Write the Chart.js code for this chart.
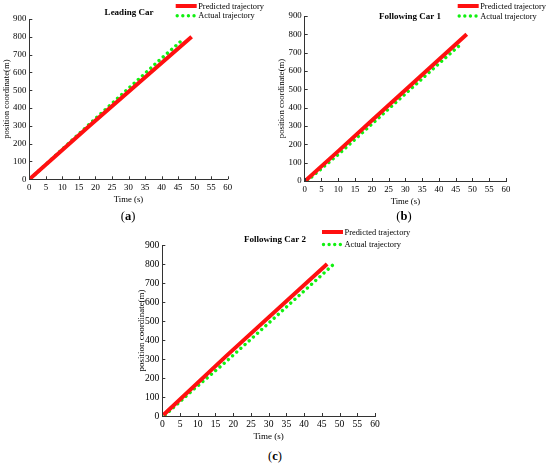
<!DOCTYPE html>
<html><head><meta charset="utf-8">
<script src="https://cdn.jsdelivr.net/npm/chart.js@4.4.1/dist/chart.umd.min.js"></script>
<style>
html,body{margin:0;padding:0;background:#fff;width:550px;height:465px;overflow:hidden;}
canvas{position:absolute;}
.lab{position:absolute;font-family:"Liberation Serif",serif;font-size:12.5px;color:#000;transform:translate(-50%,-50%);white-space:nowrap;}
</style></head><body>
<canvas id="ca" width="275" height="210" style="left:0;top:0;width:275px;height:210px"></canvas>
<canvas id="cb" width="275" height="210" style="left:275px;top:0;width:275px;height:210px"></canvas>
<canvas id="cc" width="290" height="225" style="left:130px;top:220px;width:290px;height:225px"></canvas>
<div class="lab" style="left:128px;top:216px">(<b>a</b>)</div>
<div class="lab" style="left:404px;top:216px">(<b>b</b>)</div>
<div class="lab" style="left:275px;top:456px">(<b>c</b>)</div>
<script>
// ---- data ----
const seriesNames = ['Predicted trajectory', 'Actual trajectory'];
const panelTitles = ['Leading Car', 'Following Car 1', 'Following Car 2'];
const xAxisTitle = 'Time (s)';
const yAxisTitle = 'position coordinate(m)';
const xTickValues = [0, 5, 10, 15, 20, 25, 30, 35, 40, 45, 50, 55, 60];
const yTickValues = [0, 100, 200, 300, 400, 500, 600, 700, 800, 900];

const leadPredTime = [0, 18.4, 49.1];
const leadPredPos  = [0, 303, 800];
const leadActTime  = [0.5, 20.4, 39.2, 46.8];
const leadActPos   = [6, 348, 666, 791];

const f1PredTime = [0.3, 10, 20, 48.3];
const f1PredPos  = [3, 163, 330, 800];
const f1ActTime  = [0.8, 10, 20.6, 40.1, 46.6];
const f1ActPos   = [3, 145, 320, 642, 747];

const f2PredTime = [0.3, 18, 46.5];
const f2PredPos  = [5, 315, 800];
const f2ActTime  = [0.8, 9.2, 18.3, 48.4];
const f2ActPos   = [5, 146, 291, 800];

// ---- helpers ----
const pts = (t, v) => t.map((x, i) => ({x: x, y: v[i]}));
const FONT = '"Liberation Serif", "Times New Roman", serif';
const TXT = '#000';

const decor = {
  id: 'decor',
  afterDraw(chart, args, o) {
    const ctx = chart.ctx;
    const xs = chart.scales.x, ys = chart.scales.y;
    const ca = chart.chartArea;
    ctx.save();
    // inward ticks
    ctx.strokeStyle = '#333'; ctx.lineWidth = 1;
    ctx.beginPath();
    xTickValues.forEach(v => {
      const p = Math.round(xs.getPixelForValue(v)) + 0.5;
      ctx.moveTo(p, ca.bottom); ctx.lineTo(p, ca.bottom - 3);
    });
    yTickValues.forEach(v => {
      const p = Math.round(ys.getPixelForValue(v)) + 0.5;
      ctx.moveTo(ca.left, p); ctx.lineTo(ca.left + 3, p);
    });
    ctx.stroke();
    // title
    ctx.fillStyle = TXT;
    ctx.font = 'bold ' + o.titleSize + 'px ' + FONT;
    ctx.textAlign = 'center'; ctx.textBaseline = 'middle';
    ctx.fillText(o.title, o.titleX, o.titleY);
    // legend
    chart.data.datasets.forEach((ds, i) => {
      const y = o.legY + i * o.legGap;
      ctx.beginPath();
      ctx.strokeStyle = ds.borderColor; ctx.lineWidth = ds.borderWidth;
      ctx.setLineDash(ds.borderDash || []);
      ctx.lineCap = ds.borderCapStyle || 'butt';
      ctx.moveTo(o.legX + (i ? 1.5 : 0), y); ctx.lineTo(o.legX + o.legLen, y);
      ctx.stroke();
      ctx.setLineDash([]);
      ctx.fillStyle = TXT;
      ctx.font = o.legSize + 'px ' + FONT;
      ctx.textAlign = 'left'; ctx.textBaseline = 'middle';
      ctx.fillText(ds.label, o.legX + o.legLen + 1.5, y + 0.5);
    });
    ctx.restore();
  }
};

function makePanel(id, cfg) {
  const cv = document.getElementById(id);
  const W = cv.width, H = cv.height;
  const xH = 27;
  new Chart(cv, {
    type: 'line',
    data: {
      datasets: [
        {label: seriesNames[0], data: pts(cfg.predT, cfg.predV), borderColor: '#ff1010', borderWidth: 4,
         pointRadius: 0, tension: 0, fill: false, order: 0, borderCapStyle: 'butt'},
        {label: seriesNames[1], data: pts(cfg.actT, cfg.actV), borderColor: '#10f010', borderWidth: 3.4,
         pointRadius: 0, tension: 0, fill: false, order: 1, borderDash: [0.01, 5.6], borderCapStyle: 'round'}
      ]
    },
    options: {
      responsive: false, animation: false, devicePixelRatio: 1,
      layout: {padding: {left: 0, top: cfg.T, right: W - cfg.R, bottom: H - cfg.B - xH}},
      plugins: {legend: {display: false}, tooltip: {enabled: false}, title: {display: false},
        decor: cfg.decor},
      scales: {
        x: {
          type: 'linear', min: 0, max: 60,
          afterBuildTicks: s => { s.ticks = xTickValues.map(v => ({value: v})); },
          afterFit: s => { s.height = xH; },
          grid: {display: true, drawOnChartArea: false, drawTicks: false},
          border: {display: true, color: '#333', width: 1},
          ticks: {color: TXT, font: {family: FONT, size: cfg.tickSize}, padding: cfg.xPad, maxRotation: 0, autoSkip: false},
          title: {display: true, text: xAxisTitle, color: TXT, font: {family: FONT, size: cfg.axSize}, padding: {top: 0, bottom: cfg.xTitlePad}}
        },
        y: {
          type: 'linear', min: 0, max: 900,
          afterBuildTicks: s => { s.ticks = yTickValues.map(v => ({value: v})); },
          afterFit: s => { s.width = cfg.L; },
          grid: {display: true, drawOnChartArea: false, drawTicks: false},
          border: {display: true, color: '#333', width: 1},
          ticks: {color: TXT, font: {family: FONT, size: cfg.tickSize}, padding: 3, autoSkip: false},
          title: {display: true, text: yAxisTitle, color: TXT, font: {family: FONT, size: cfg.axSize}, padding: {top: cfg.yTitlePad, bottom: 0}}
        }
      }
    },
    plugins: [decor]
  });
}

makePanel('ca', {predT: leadPredTime, predV: leadPredPos, actT: leadActTime, actV: leadActPos,
  L: 29.3, R: 227.7, T: 19, B: 179.3, tickSize: 8.8, axSize: 8.7, xPad: 3, xTitlePad: 1, yTitlePad: 1.5,
  decor: {title: panelTitles[0], titleSize: 9, titleX: 129, titleY: 12.7,
    legX: 175.7, legY: 6, legGap: 9.7, legLen: 21, legSize: 8.4}});

makePanel('cb', {predT: f1PredTime, predV: f1PredPos, actT: f1ActTime, actV: f1ActPos,
  L: 29.7, R: 231, T: 16, B: 181, tickSize: 8.8, axSize: 8.7, xPad: 3, xTitlePad: 1, yTitlePad: 1.5,
  decor: {title: panelTitles[1], titleSize: 9, titleX: 135, titleY: 16.7,
    legX: 182.7, legY: 6, legGap: 10, legLen: 21, legSize: 8.4}});

makePanel('cc', {predT: f2PredTime, predV: f2PredPos, actT: f2ActTime, actV: f2ActPos,
  L: 32.3, R: 245, T: 25, B: 196, tickSize: 9.6, axSize: 9, xPad: 3, xTitlePad: 1, yTitlePad: 6,
  decor: {title: panelTitles[2], titleSize: 9, titleX: 145, titleY: 20,
    legX: 192, legY: 12, legGap: 12.5, legLen: 21, legSize: 8.4}});
</script>
</body></html>
